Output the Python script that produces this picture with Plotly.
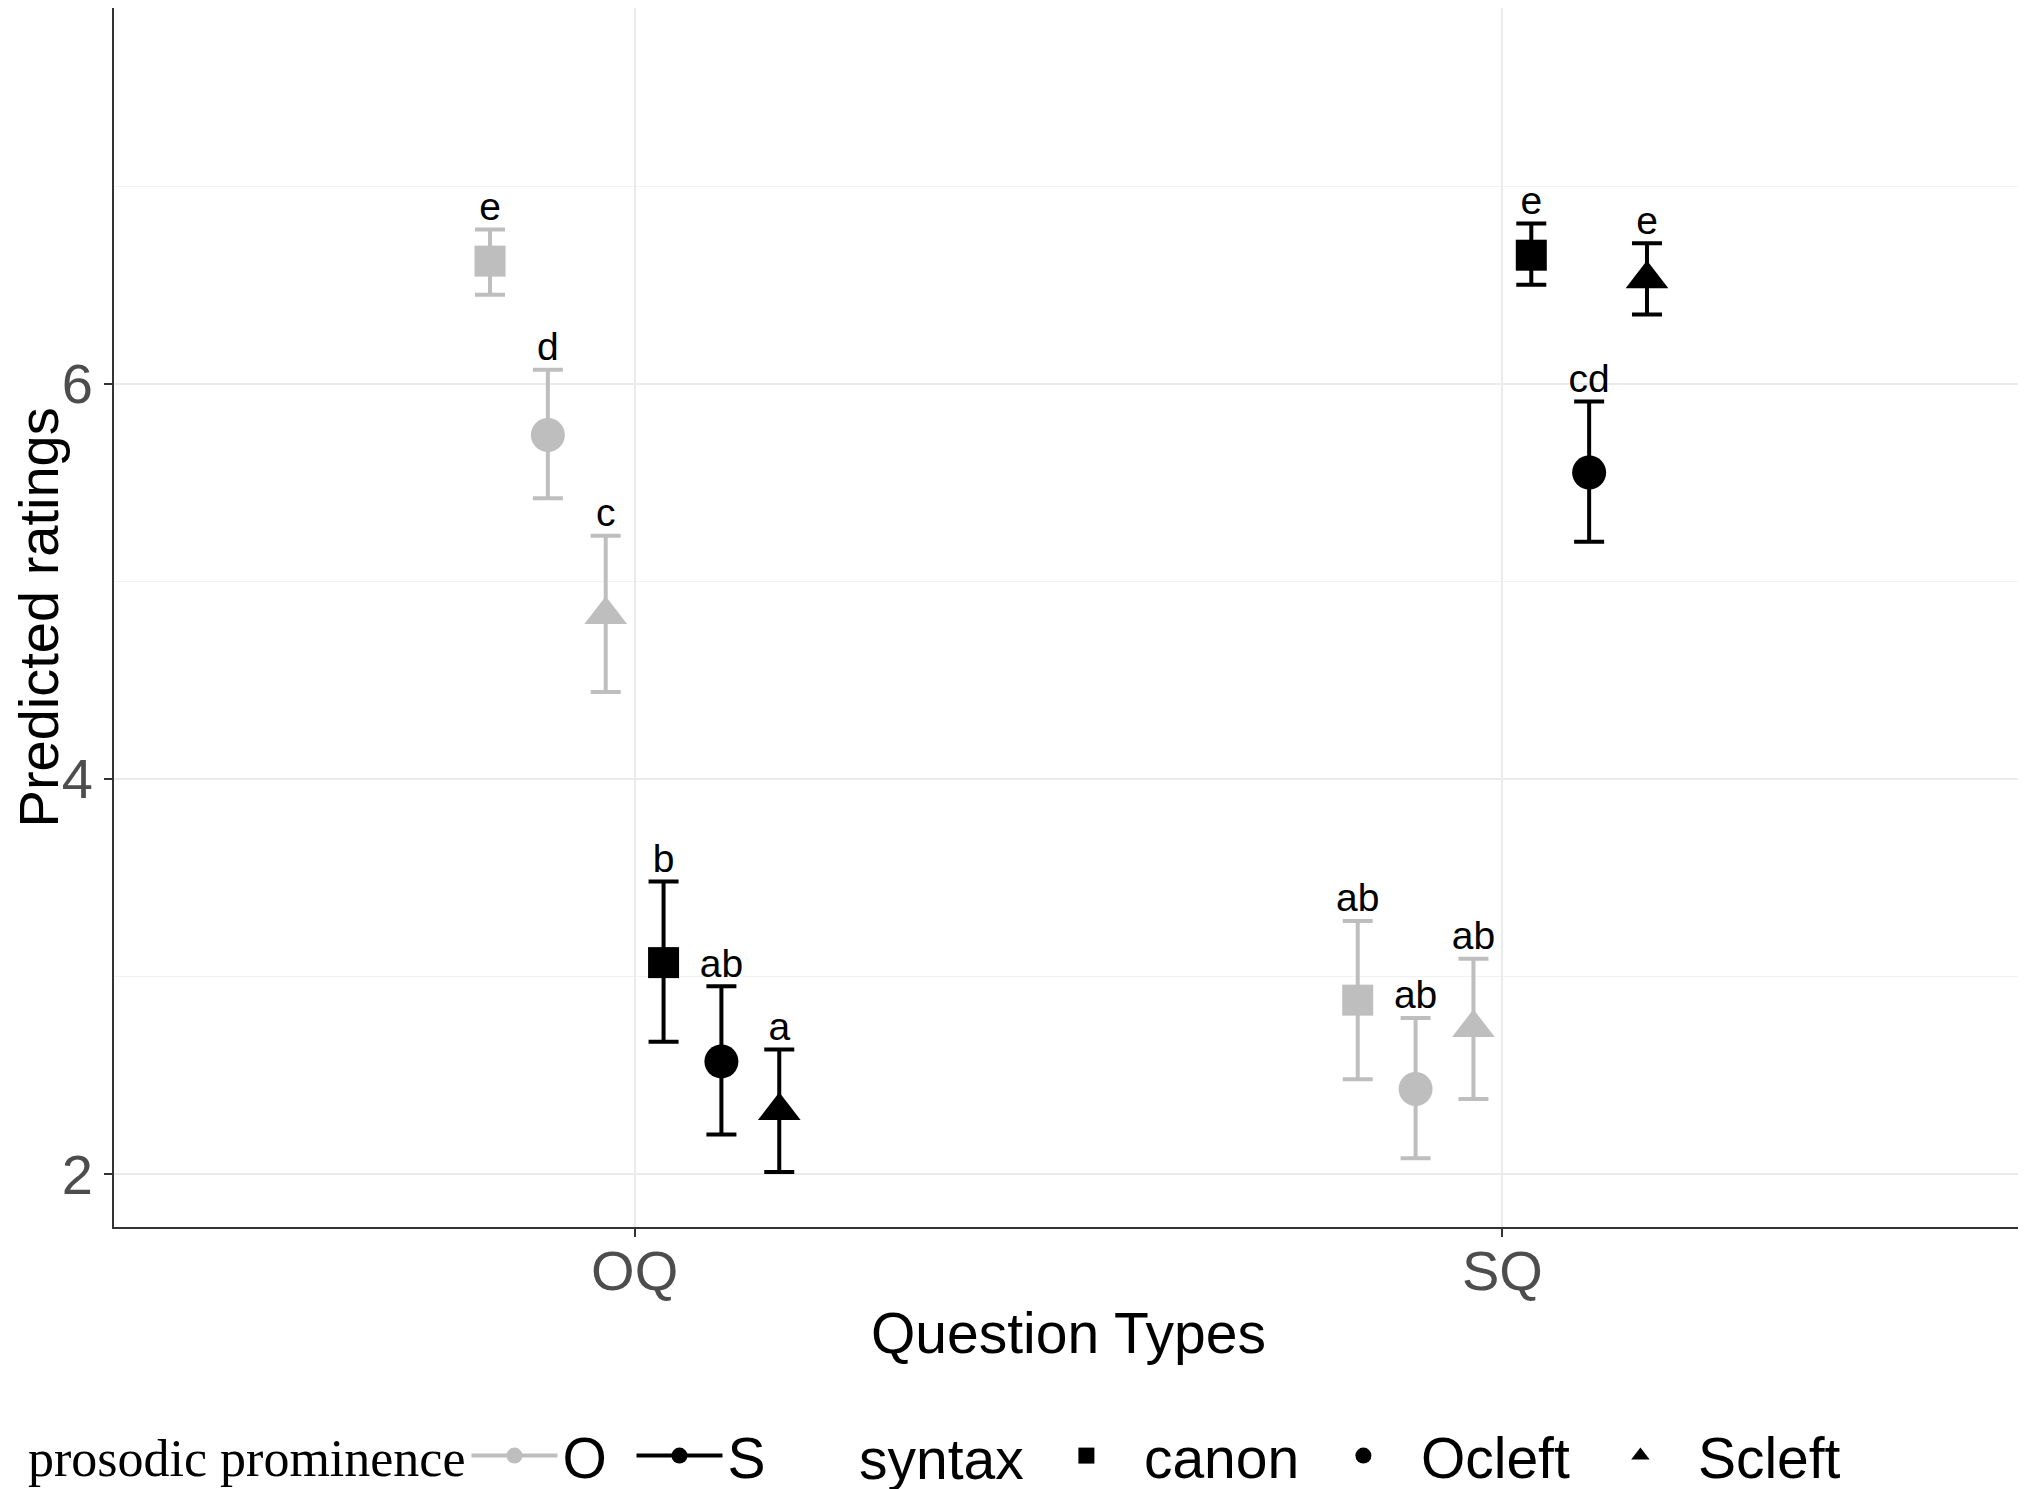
import plotly.graph_objects as go

# categories
question_types = ["OQ", "SQ"]
prosody_levels = ["O", "S"]
syntax_levels = ["canon", "Ocleft", "Scleft"]

# groups in order: O-canon, O-Ocleft, O-Scleft, S-canon, S-Ocleft, S-Scleft
est_oq = [6.62, 5.74, 4.83, 3.07, 2.57, 2.32]
lo_oq = [6.45, 5.42, 4.44, 2.67, 2.20, 2.01]
hi_oq = [6.78, 6.07, 5.23, 3.48, 2.95, 2.63]
letters_oq = ["e", "d", "c", "b", "ab", "a"]

est_sq = [2.88, 2.43, 2.74, 6.65, 5.55, 6.53]
lo_sq = [2.48, 2.08, 2.38, 6.50, 5.20, 6.35]
hi_sq = [3.28, 2.79, 3.09, 6.81, 5.91, 6.71]
letters_sq = ["ab", "ab", "ab", "e", "cd", "e"]

prosody_colors = {"O": "#BEBEBE", "S": "#000000"}
syntax_symbols = {"canon": "square", "Ocleft": "circle", "Scleft": "triangle-up"}
symbol_sizes = {"canon": 31, "Ocleft": 34, "Scleft": 37}

SANS = "Liberation Sans"
dodge = 0.4
n_groups = len(prosody_levels) * len(syntax_levels)

fig = go.Figure()

for g in range(n_groups):
    pros = prosody_levels[g // 3]
    syn = syntax_levels[g % 3]
    off = (g - (n_groups - 1) / 2) * dodge / n_groups
    xs = [i + 1 + off for i in range(len(question_types))]
    ys = [est_oq[g], est_sq[g]]
    his = [hi_oq[g], hi_sq[g]]
    los = [lo_oq[g], lo_sq[g]]
    col = prosody_colors[pros]
    fig.add_trace(go.Scatter(
        x=xs, y=ys, mode="markers", showlegend=False,
        marker=dict(symbol=syntax_symbols[syn], size=symbol_sizes[syn], color=col, line=dict(width=0)),
        error_y=dict(type="data", symmetric=False,
                     array=[h - y for h, y in zip(his, ys)],
                     arrayminus=[y - l for y, l in zip(ys, los)],
                     color=col, thickness=4, width=15),
    ))
    fig.add_trace(go.Scatter(
        x=xs, y=his, mode="text", showlegend=False,
        text=[letters_oq[g], letters_sq[g]], textposition="top center",
        textfont=dict(family=SANS, size=39, color="black"),
    ))

# legend keys
for pros in prosody_levels:
    fig.add_trace(go.Scatter(
        x=[None], y=[None], mode="lines+markers", name=pros, legend="legend",
        line=dict(color=prosody_colors[pros], width=4),
        marker=dict(symbol="circle", size=16, color=prosody_colors[pros]),
    ))
for syn in syntax_levels:
    fig.add_trace(go.Scatter(
        x=[None], y=[None], mode="markers", name=syn, legend="legend2",
        marker=dict(symbol=syntax_symbols[syn], size=16, color="black"),
    ))

fig.update_layout(
    width=2026, height=1489,
    margin=dict(l=106, r=11, t=0, b=270),
    paper_bgcolor="white", plot_bgcolor="white",
    font=dict(family=SANS, color="black"),
    legend=dict(
        orientation="h", xref="container", yref="container",
        x=0.2263, xanchor="left", y=0.0275, yanchor="middle",
        font=dict(family=SANS, size=57, color="black"),
        itemwidth=86, entrywidth=64, bgcolor="rgba(0,0,0,0)",
    ),
    legend2=dict(
        orientation="h", xref="container", yref="container",
        x=0.5039, xanchor="left", y=0.0275, yanchor="middle",
        font=dict(family=SANS, size=57, color="black"),
        itemwidth=105, entrywidth=157, bgcolor="rgba(0,0,0,0)",
    ),
    annotations=[
        dict(text="Predicted ratings", textangle=-90, showarrow=False,
             xref="paper", yref="paper", x=-0.0393, y=0.5, xanchor="center", yanchor="middle",
             font=dict(family=SANS, size=56, color="black")),
        dict(text="prosodic prominence", showarrow=False,
             xref="paper", yref="paper", x=0.1854, y=-0.19, xanchor="right", yanchor="middle",
             font=dict(family="Liberation Serif", size=52, color="black")),
        dict(text="syntax", showarrow=False,
             xref="paper", yref="paper", x=0.3892, y=-0.19, xanchor="left", yanchor="middle",
             font=dict(family=SANS, size=57, color="black")),
    ],
)

fig.update_xaxes(
    range=[0.4, 2.6], tickvals=[1, 2], ticktext=question_types, automargin=False,
    showgrid=True, gridcolor="#EBEBEB", gridwidth=2, zeroline=False,
    showline=True, mirror=True, linecolor="#333333", linewidth=2,
    ticks="outside", ticklen=8, tickwidth=2, tickcolor="#333333", ticklabelstandoff=-14,
    tickfont=dict(family=SANS, size=56, color="#4D4D4D"),
    title=dict(text="Question Types", standoff=12, font=dict(family=SANS, size=57, color="black")),
)
fig.update_yaxes(
    range=[1.732, 7.901], tickvals=[2, 4, 6], automargin=False,
    showgrid=True, gridcolor="#EBEBEB", gridwidth=2, zeroline=False,
    minor=dict(tickvals=[3, 5, 7], showgrid=True, gridcolor="#F2F2F2", gridwidth=1.2, ticks=""),
    showline=True, mirror=True, linecolor="#333333", linewidth=2,
    ticks="outside", ticklen=8, tickwidth=2, tickcolor="#333333",
    tickfont=dict(family=SANS, size=56, color="#4D4D4D"),
)

fig.write_html("out.html")
